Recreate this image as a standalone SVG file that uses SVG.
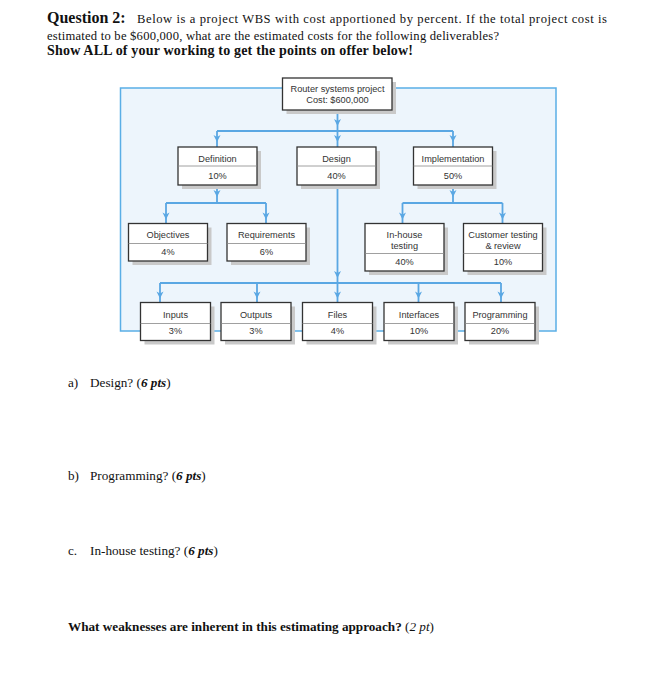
<svg xmlns="http://www.w3.org/2000/svg" xmlns:xlink="http://www.w3.org/1999/xlink" width="670" height="691" viewBox="0 0 670 691">
<style>
.serif{font-family:"Liberation Serif","Times New Roman",serif;fill:#111}
.sans{font-family:"Liberation Sans",Arial,sans-serif;font-size:9.2px;fill:#333;text-anchor:middle}
.box{fill:#fff;stroke:#333;stroke-width:1.3}
.shadow{fill:#c9c9c9}
.div{stroke:#888;stroke-width:0.8}
.conn{fill:none;stroke:#5aa7e3;stroke-width:1.8}
.ah{fill:#5aa7e3}
</style>
<defs>
<path id="ah" d="M-3.5,-7 L0,-5 L3.5,-7 L0,0 Z"/>
</defs>
<rect width="670" height="691" fill="#fff"/>

<!-- header -->
<g id="header">
<text class="serif" x="47" y="23" font-size="16" font-weight="bold">Question 2:</text>
<text class="serif" x="137" y="23" font-size="12.6" textLength="470" lengthAdjust="spacing">Below is a project WBS with cost apportioned by percent. If the total project cost is</text>
<text class="serif" x="47" y="40" font-size="12.6" textLength="452" lengthAdjust="spacing">estimated to be $600,000, what are the estimated costs for the following deliverables?</text>
<text class="serif" x="47" y="55" font-size="14" font-weight="bold" textLength="366" lengthAdjust="spacing">Show ALL of your working to get the points on offer below!</text>
</g>

<!-- panel -->
<rect id="panel" x="120.5" y="88" width="435.5" height="243" fill="#edf5fc" stroke="#5aaee6" stroke-width="1.5"/>

<!-- connectors -->
<g id="connectors">
<path class="conn" d="M337.5,110 V131 M217,131 H453 M217,131 V147 M337.5,131 V147 M453,131 V147"/>
<path class="conn" d="M217,185 V203 M166,203 H266 M166,203 V223.5 M266,203 V223.5"/>
<path class="conn" d="M453,185 V203 M402.5,203 H502.5 M402.5,203 V223.5 M502.5,203 V223.5"/>
<path class="conn" d="M337.5,185 V283 M160,283 H501 M160,283 V302.5 M257,283 V302.5 M337.5,283 V302.5 M418.5,283 V302.5 M501,283 V302.5"/>
<g class="ah">
<use xlink:href="#ah" x="337.5" y="126"/>
<use xlink:href="#ah" x="217" y="142"/>
<use xlink:href="#ah" x="337.5" y="142"/>
<use xlink:href="#ah" x="453" y="142"/>
<use xlink:href="#ah" x="217" y="197"/>
<use xlink:href="#ah" x="453" y="197"/>
<use xlink:href="#ah" x="166" y="219.5"/>
<use xlink:href="#ah" x="266" y="219.5"/>
<use xlink:href="#ah" x="402.5" y="219.5"/>
<use xlink:href="#ah" x="502.5" y="219.5"/>
<use xlink:href="#ah" x="337.5" y="278"/>
<use xlink:href="#ah" x="160" y="298.5"/>
<use xlink:href="#ah" x="257" y="298.5"/>
<use xlink:href="#ah" x="337.5" y="298.5"/>
<use xlink:href="#ah" x="418.5" y="298.5"/>
<use xlink:href="#ah" x="501" y="298.5"/>
</g>
</g>

<!-- root -->
<g id="root">
<rect class="shadow" x="286.5" y="82" width="109.5" height="32"/>
<rect class="box" x="282.5" y="78" width="109.5" height="32"/>
<text class="sans" x="337.5" y="92">Router systems project</text>
<text class="sans" x="337.5" y="102.5">Cost: $600,000</text>
</g>

<!-- level 2 -->
<g id="definition">
<rect class="shadow" x="182" y="151" width="79" height="38"/>
<rect class="box" x="178" y="147" width="79" height="38"/>
<line class="div" x1="178" y1="166" x2="257" y2="166"/>
<text class="sans" x="217.5" y="162">Definition</text>
<text class="sans" x="217.5" y="178.5">10%</text>
</g>
<g id="design">
<rect class="shadow" x="301" y="151" width="79" height="38"/>
<rect class="box" x="297" y="147" width="79" height="38"/>
<line class="div" x1="297" y1="166" x2="376" y2="166"/>
<text class="sans" x="336.5" y="162">Design</text>
<text class="sans" x="336.5" y="178.5">40%</text>
</g>
<g id="implementation">
<rect class="shadow" x="417.5" y="151" width="79" height="38"/>
<rect class="box" x="413.5" y="147" width="79" height="38"/>
<line class="div" x1="413.5" y1="166" x2="492.5" y2="166"/>
<text class="sans" x="453" y="162">Implementation</text>
<text class="sans" x="453" y="178.5">50%</text>
</g>

<!-- level 3 -->
<g id="objectives">
<rect class="shadow" x="132.5" y="227.5" width="79" height="37.5"/>
<rect class="box" x="128.5" y="223.5" width="79" height="37.5"/>
<line class="div" x1="128.5" y1="243.5" x2="207.5" y2="243.5"/>
<text class="sans" x="168" y="238">Objectives</text>
<text class="sans" x="168" y="254.5">4%</text>
</g>
<g id="requirements">
<rect class="shadow" x="231" y="227.5" width="79" height="37.5"/>
<rect class="box" x="227" y="223.5" width="79" height="37.5"/>
<line class="div" x1="227" y1="243.5" x2="306" y2="243.5"/>
<text class="sans" x="266.5" y="238">Requirements</text>
<text class="sans" x="266.5" y="254.5">6%</text>
</g>
<g id="inhouse">
<rect class="shadow" x="369" y="227.5" width="79" height="47.5"/>
<rect class="box" x="365" y="223.5" width="79" height="47.5"/>
<line class="div" x1="365" y1="253.5" x2="444" y2="253.5"/>
<text class="sans" x="404.5" y="238">In-house</text>
<text class="sans" x="404.5" y="249">testing</text>
<text class="sans" x="404.5" y="265">40%</text>
</g>
<g id="customer">
<rect class="shadow" x="467.5" y="227.5" width="79" height="47.5"/>
<rect class="box" x="463.5" y="223.5" width="79" height="47.5"/>
<line class="div" x1="463.5" y1="253.5" x2="542.5" y2="253.5"/>
<text class="sans" x="503" y="238">Customer testing</text>
<text class="sans" x="503" y="249">&amp; review</text>
<text class="sans" x="503" y="265">10%</text>
</g>

<!-- level 4 -->
<g id="inputs">
<rect class="shadow" x="144.5" y="306.5" width="70" height="38"/>
<rect class="box" x="140.5" y="302.5" width="70" height="38"/>
<line class="div" x1="140.5" y1="323.5" x2="210.5" y2="323.5"/>
<text class="sans" x="175.5" y="318">Inputs</text>
<text class="sans" x="175.5" y="334">3%</text>
</g>
<g id="outputs">
<rect class="shadow" x="225" y="306.5" width="70" height="38"/>
<rect class="box" x="221" y="302.5" width="70" height="38"/>
<line class="div" x1="221" y1="323.5" x2="291" y2="323.5"/>
<text class="sans" x="256" y="318">Outputs</text>
<text class="sans" x="256" y="334">3%</text>
</g>
<g id="files">
<rect class="shadow" x="306.5" y="306.5" width="70" height="38"/>
<rect class="box" x="302.5" y="302.5" width="70" height="38"/>
<line class="div" x1="302.5" y1="323.5" x2="372.5" y2="323.5"/>
<text class="sans" x="337.5" y="318">Files</text>
<text class="sans" x="337.5" y="334">4%</text>
</g>
<g id="interfaces">
<rect class="shadow" x="388" y="306.5" width="70" height="38"/>
<rect class="box" x="384" y="302.5" width="70" height="38"/>
<line class="div" x1="384" y1="323.5" x2="454" y2="323.5"/>
<text class="sans" x="419" y="318">Interfaces</text>
<text class="sans" x="419" y="334">10%</text>
</g>
<g id="programming">
<rect class="shadow" x="469" y="306.5" width="70" height="38"/>
<rect class="box" x="465" y="302.5" width="70" height="38"/>
<line class="div" x1="465" y1="323.5" x2="535" y2="323.5"/>
<text class="sans" x="500" y="318">Programming</text>
<text class="sans" x="500" y="334">20%</text>
</g>

<!-- questions -->
<g id="questions" class="serif" font-size="13.2">
<text x="68" y="387">a)</text>
<text x="90" y="387">Design? (<tspan font-weight="bold" font-style="italic">6 pts</tspan>)</text>
<text x="68" y="480">b)</text>
<text x="90" y="480">Programming? (<tspan font-weight="bold" font-style="italic">6 pts</tspan>)</text>
<text x="68" y="555">c.</text>
<text x="90" y="555">In-house testing? (<tspan font-weight="bold" font-style="italic">6 pts</tspan>)</text>
<text x="68" y="631"><tspan font-weight="bold">What weaknesses are inherent in this estimating approach?</tspan> (<tspan font-style="italic">2 pt</tspan>)</text>
</g>
</svg>
